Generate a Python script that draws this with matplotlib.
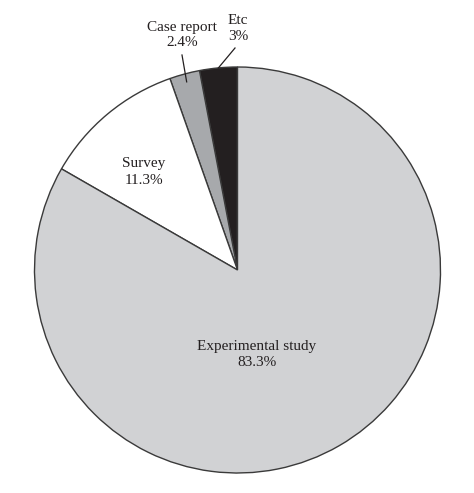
import matplotlib.pyplot as plt
import numpy as np

# Study types, counter-clockwise from 12 o'clock
labels = ["Etc", "Case report", "Survey", "Experimental study"]
shares = [3.0, 2.4, 11.3, 83.3]
pct_text = ["3%", "2.4%", "11.3%", "83.3%"]
colors = ["#231f20", "#a7a9ac", "#ffffff", "#d1d2d4"]

W, H = 474, 493
fig = plt.figure(figsize=(W / 100, H / 100), dpi=100)
ax = fig.add_axes([0, 0, 1, 1])

cx, cy, r = 237.5, H - 270, 203
wedges, _ = ax.pie(shares, colors=colors, startangle=90, counterclock=True,
                   center=(cx, cy), radius=r, frame=True,
                   wedgeprops=dict(edgecolor="#3a3a3a", linewidth=1.0))
ax.set_xlim(0, W)
ax.set_ylim(0, H)
ax.set_aspect("equal")
ax.axis("off")

font = dict(family="Liberation Serif", fontsize=11, color="#231f20",
            linespacing=1.3)

# labels inside the big wedges
ax.text(257, H - 354.5, "Experimental study\n83.3%", ha="center",
        va="center", **font)
ax.text(144, H - 172, "Survey\n11.3%", ha="center", va="center", **font)

# outside labels with leader lines for the thin wedges
outside = {0: ((238, 28.5), (235, 48), 1.0),
           1: ((182, 35), (182, 55), 0.96)}
for i, ((tx, ty), (lx, ly), rf) in outside.items():
    w = wedges[i]
    mid = np.deg2rad((w.theta1 + w.theta2) / 2)
    ex, ey = cx + rf * r * np.cos(mid), cy + rf * r * np.sin(mid)
    ax.text(tx, H - ty, labels[i] + "\n" + pct_text[i], ha="center",
            va="center", **font)
    ax.plot([ex, lx], [ey, H - ly], color="#231f20", lw=0.9)

fig.savefig("out.png", dpi=100)
